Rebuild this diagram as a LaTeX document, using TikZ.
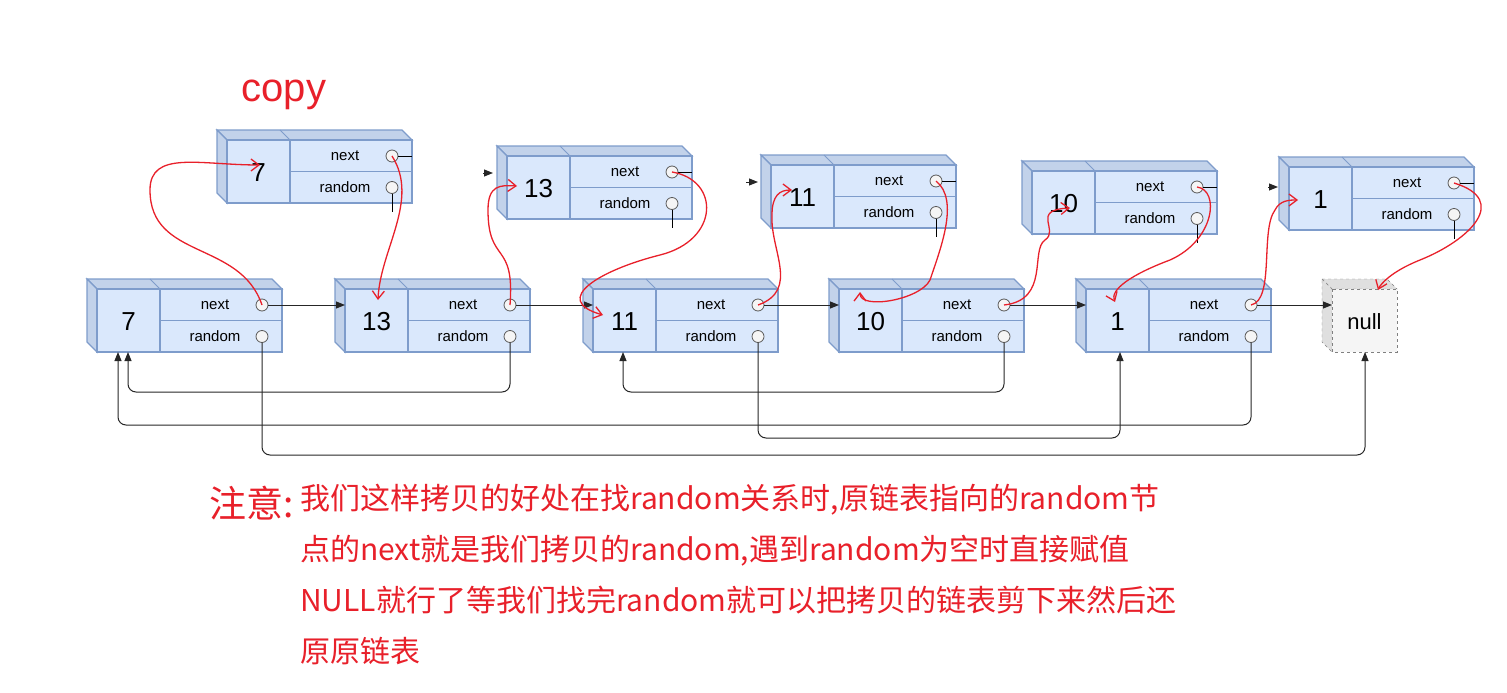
\documentclass[tikz,border=0pt]{standalone}
\usepackage{fontspec}
\setmainfont{Liberation Sans}
\newfontfamily\cjk{Noto Sans CJK SC}
\usetikzlibrary{arrows.meta}
\definecolor{face}{HTML}{DAE8FC}
\definecolor{side}{HTML}{C2D2EA}
\definecolor{bord}{HTML}{7E9CCB}
\definecolor{hand}{HTML}{E8202A}
\tikzset{
  bx/.style={fill=face,draw=bord,line width=1.2pt},
  sd/.style={fill=side,draw=bord,line width=1.2pt},
  circ/.style={circle,draw=gray!70!black,fill=gray!8,minimum size=12pt,inner sep=0pt,line width=0.8pt},
  lbl/.style={font=\fontsize{15}{15}\selectfont},
  val/.style={font=\fontsize{26}{26}\selectfont},
  ptr/.style={-{Triangle[length=9pt,width=7pt]},line width=1pt,black!85},
  rnd/.style={ptr,rounded corners=8pt},
  hd/.style={hand,line width=1.3pt,-{Straight Barb[length=8pt,width=12pt]}},
}
\newcommand\LN[4]{%
\begin{scope}[shift={(#2,#3)}]
 \draw[sd] (0,0)--(185,0)--(195,10)--(10,10)--cycle;
 \draw[sd] (0,0)--(10,10)--(10,73)--(0,63)--cycle;
 \draw[bord,line width=1pt] (63,0)--(73,10);
 \draw[bx] (10,10) rectangle (195,73);
 \draw[bord,line width=1.2pt] (73,10)--(73,73) (73,41.5)--(195,41.5);
 \node[val] (#1v) at (41.5,43) {#4};
 \node[lbl] at (128,26) {next};
 \node[lbl] at (128,57) {random};
 \node[circ] (#1n) at (175,26) {};
 \node[circ] (#1r) at (175,57.5) {};
 \coordinate (#1L) at (10,26);
 \coordinate (#1B) at (41.5,73);
\end{scope}}
\begin{document}
\begin{tikzpicture}[x=1pt,y=-1pt]
\useasboundingbox (0,0) rectangle (1507,693);
% bottom row
\LN{a}{87}{279}{7}
\LN{b}{335}{279}{13}
\LN{c}{583}{279}{11}
\LN{d}{829}{279}{10}
\LN{e}{1076}{279}{1}
% null
\begin{scope}[shift={(1322,279)}]
 \draw[dashed,draw=gray,fill=gray!25] (0,0)--(65,0)--(75,10)--(10,10)--cycle;
 \draw[dashed,draw=gray,fill=gray!25] (0,0)--(10,10)--(10,73)--(0,63)--cycle;
 \draw[dashed,draw=gray,fill=gray!8] (10,10) rectangle (75,73);
 \node[font=\fontsize{22}{22}\selectfont] (nul) at (42.5,43) {null};
 \coordinate (nulL) at (10,26);
\end{scope}
\coordinate (a1) at (118,352);
\coordinate (a2) at (128,352);
\coordinate (c1) at (623,352);
\coordinate (e1) at (1120,352);
\coordinate (n1) at (1365,352);
% copies
\LN{A}{217}{130}{7}
\LN{B}{497}{146}{13}
\LN{C}{761}{155}{11}
\LN{D}{1022}{161}{10}
\LN{E}{1279}{157}{1}
\node[font=\fontsize{40}{40}\selectfont,text=hand] (cp) at (284,95) {copy};
% next pointers
\draw[ptr] (an) -- (bL);
\draw[ptr] (bn) -- (cL);
\draw[ptr] (cn) -- (dL);
\draw[ptr] (dn) -- (eL);
\draw[ptr] (en) -- (nulL);
% copy stubs
\foreach \n in {A,B,C,D,E}{
  \draw[line width=1pt] (\n n.east) -- ++(14,0);
  \draw[line width=1pt] (\n r.south) -- ++(0,18);
}
\coordinate (s1) at (483,173); \coordinate (s2) at (746,182); \coordinate (s3) at (1268,187);
\draw[ptr] (s1) -- ++(10,0);
\draw[ptr] (s2) -- ++(12,0);
\draw[ptr] (s3) -- ++(10,0);
% random pointers
\draw[rnd] (br.south) |- (128,392) -- (a2);
\draw[rnd] (er.south) |- (118,425) -- (a1);
\draw[rnd] (dr.south) |- (623,392) -- (c1);
\draw[rnd] (ar.south) |- (1365,455) -- (n1);
\draw[rnd] (cr.south) |- (1120,438) -- (e1);
% hand drawn red
\draw[hd] (an.center) .. controls (240,240) and (150,260) .. (150,190) .. controls (150,150) and (200,165) .. (260,165);
\draw[hd] (An.center) .. controls (420,200) and (380,250) .. (378,300);
\draw[hd] (bn.center) .. controls (515,240) and (488,265) .. (488,210) .. controls (488,185) and (500,185) .. (517,186);
\draw[hd] (Bn.center) .. controls (720,180) and (720,240) .. (660,255) .. controls (600,270) and (550,300) .. (603,315);
\draw[hd] (cn.center) .. controls (800,290) and (770,250) .. (772,215) .. controls (772,195) and (780,190) .. (792,190);
\draw[hd] (Cn.center) .. controls (960,200) and (940,250) .. (930,280) .. controls (920,300) and (860,310) .. (860,292);
\draw[hd] (dn.center) .. controls (1050,300) and (1030,250) .. (1045,240) .. controls (1060,230) and (1030,210) .. (1070,208);
\draw[hd] (Dn.center) .. controls (1220,190) and (1215,240) .. (1170,260) .. controls (1130,275) and (1110,290) .. (1115,302);
\draw[hd] (en.center) .. controls (1275,300) and (1260,230) .. (1275,210) .. controls (1280,200) and (1290,200) .. (1298,200);
\draw[hd] (En.center) .. controls (1510,200) and (1470,240) .. (1420,260) .. controls (1390,272) and (1380,285) .. (1378,290);
% note
\node[anchor=west,text=hand,font=\cjk\fontsize{37}{37}\selectfont] (zy) at (206,503) {注意:};
\node[anchor=north west,text=hand,font=\cjk\fontsize{30}{51}\selectfont,align=left,inner sep=0pt] (tx) at (300,484)
 {我们这样拷贝的好处在找random关系时,原链表指向的random节\\
  点的next就是我们拷贝的random,遇到random为空时直接赋值\\
  NULL就行了等我们找完random就可以把拷贝的链表剪下来然后还\\
  原原链表};
\end{tikzpicture}
\end{document}
